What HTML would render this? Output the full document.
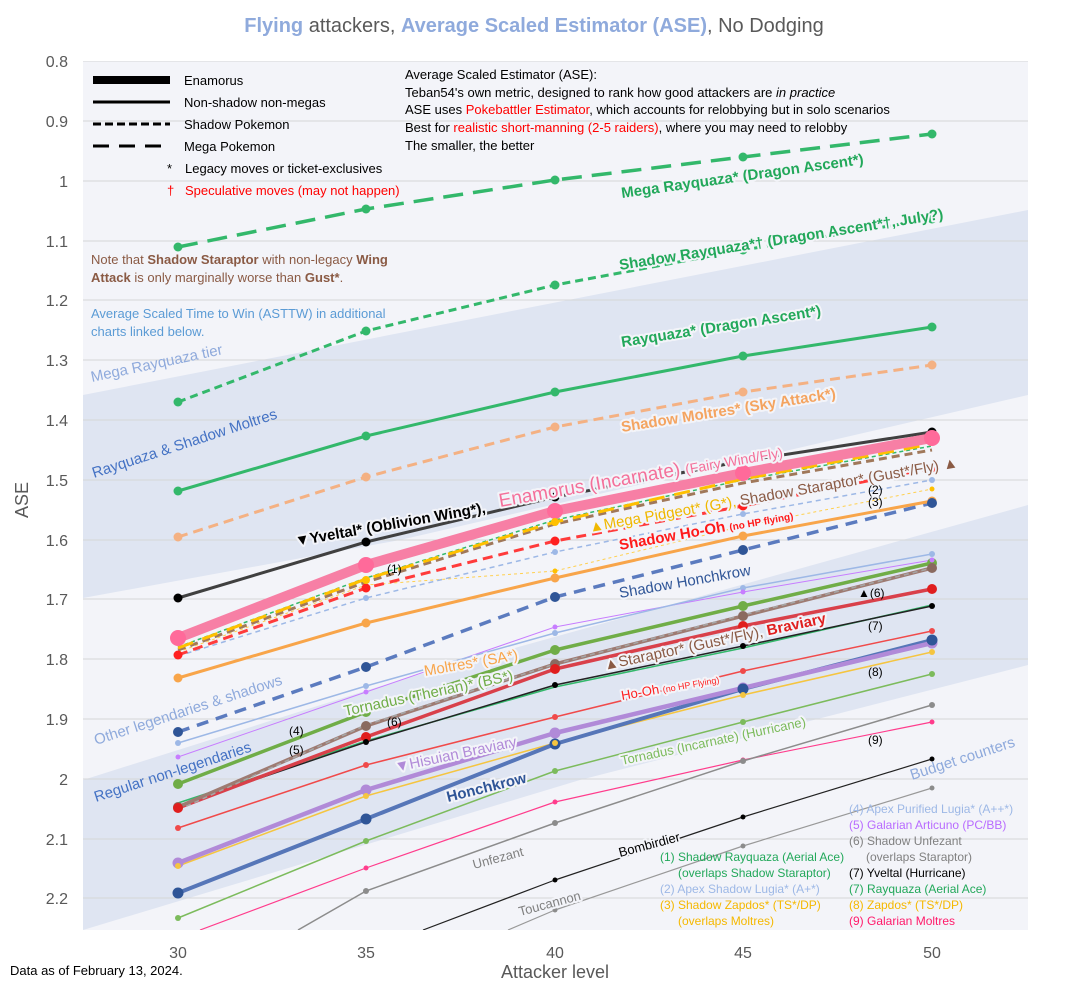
<!DOCTYPE html>
<html><head><meta charset="utf-8"><style>
body{margin:0;background:#fff}
svg{display:block;font-family:"Liberation Sans",sans-serif}
.h{paint-order:stroke;stroke:#f3f4f9;stroke-width:4px;stroke-linejoin:round}
</style></head><body>
<svg width="1068" height="982" viewBox="0 0 1068 982" xmlns="http://www.w3.org/2000/svg">
<defs><clipPath id="pc"><rect x="83" y="61" width="945" height="869"/></clipPath></defs>
<rect width="1068" height="982" fill="#fff"/>
<text x="534" y="32" text-anchor="middle" font-size="20" fill="#595959"><tspan fill="#8faadc" font-weight="bold">Flying</tspan> attackers, <tspan fill="#8faadc" font-weight="bold">Average Scaled Estimator (ASE)</tspan>, No Dodging</text>
<g clip-path="url(#pc)">
<rect x="83" y="61" width="945" height="869" fill="#f3f4f9"/>
<polygon points="83,395 1028,210 1028,395 400,540 83,598" fill="#dfe5f2"/>
<polygon points="83,780 400,680 1028,505 1028,665 580,780 83,930" fill="#dfe5f2"/>
<g stroke="#d6d6d6" stroke-width="1">
<line x1="83" x2="1028" y1="61" y2="61"/><line x1="83" x2="1028" y1="121" y2="121"/><line x1="83" x2="1028" y1="181" y2="181"/><line x1="83" x2="1028" y1="241" y2="241"/><line x1="83" x2="1028" y1="300" y2="300"/><line x1="83" x2="1028" y1="360" y2="360"/><line x1="83" x2="1028" y1="420" y2="420"/><line x1="83" x2="1028" y1="480" y2="480"/><line x1="83" x2="1028" y1="540" y2="540"/><line x1="83" x2="1028" y1="599" y2="599"/><line x1="83" x2="1028" y1="659" y2="659"/><line x1="83" x2="1028" y1="719" y2="719"/><line x1="83" x2="1028" y1="779" y2="779"/><line x1="83" x2="1028" y1="839" y2="839"/><line x1="83" x2="1028" y1="898" y2="898"/>
</g>
<g fill="none" stroke-linejoin="round">
<polyline points="200,930 366,868 555,802 743,760 932,722" stroke="#ff3c8c" stroke-width="1.2"/>
<polyline points="298,930 366,891 555,823 743,761 932,705" stroke="#8c8c8c" stroke-width="1.5"/>
<polyline points="423,930 555,880 743,817 932,759" stroke="#222" stroke-width="1.2"/>
<polyline points="508,930 555,910 743,846 932,788" stroke="#999" stroke-width="1.2"/>
<polyline points="178,918 366,841 555,771 743,722 932,674" stroke="#7cbb5c" stroke-width="1.5"/>
<polyline points="178,866 366,796 555,743 743,695 932,652" stroke="#f5c540" stroke-width="1.5"/>
<polyline points="178,893 366,819 555,744 743,689 932,640" stroke="#5676b8" stroke-width="4"/>
<polyline points="178,863 366,790 555,733 743,688 932,643" stroke="#b18ad8" stroke-width="4.5"/>
<polyline points="178,828 366,765 555,717 743,671 932,631" stroke="#f04a4a" stroke-width="1.5"/>
<polyline points="178,803 366,741 555,687 743,648 932,605" stroke="#33b86b" stroke-width="1.5"/>
<polyline points="178,806 366,742 555,685 743,646 932,606" stroke="#222" stroke-width="1.5"/>
<polyline points="178,808 366,737 555,669 743,626 932,589" stroke="#d9404a" stroke-width="3.5"/>
<polyline points="178,807 366,726 555,664 743,616 932,568" stroke="#9e7b72" stroke-width="3.5"/>
<polyline points="178,810 366,725 555,664 743,615 932,568" stroke="#a6a6a6" stroke-width="1.5" stroke-dasharray="5 4"/>
<polyline points="178,784 366,712 555,650 743,606 932,563" stroke="#70ad47" stroke-width="3.5"/>
<polyline points="178,757 366,692 555,627 743,592 932,560" stroke="#c77dff" stroke-width="1"/>
<polyline points="178,743 366,686 555,633 743,588 932,554" stroke="#9db8e6" stroke-width="1.5"/>
<polyline points="178,732 366,667 555,597 743,550 932,503" stroke="#5b7bbf" stroke-width="3.5" stroke-dasharray="12 8"/>
<polyline points="178,678 366,623 555,578 743,536 932,501" stroke="#f8a54a" stroke-width="3"/>
<polyline points="178,652 366,585 555,571 743,526 932,489" stroke="#ffd050" stroke-width="1" stroke-dasharray="3 3"/>
<polyline points="178,656 366,598 555,552 743,514 932,480" stroke="#9db8e6" stroke-width="1.5" stroke-dasharray="5 4"/>
<polyline points="178,655 366,588 555,541 743,506 932,468" stroke="#ff3b3b" stroke-width="3" stroke-dasharray="10 6"/>
<polyline points="178,647 366,578 555,520 743,480 932,446" stroke="#33b86b" stroke-width="1.5" stroke-dasharray="4 3"/>
<polyline points="178,650 366,582 555,524 743,483 932,450" stroke="#a0785a" stroke-width="3" stroke-dasharray="8 5"/>
<polyline points="178,648 366,579 555,522 743,479 932,444" stroke="#ffc000" stroke-width="3" stroke-dasharray="16 10"/>
<polyline points="178,598 366,542 555,497 743,461 932,432" stroke="#404040" stroke-width="3"/>
<polyline points="178,638 366,565 555,511 743,473 932,438" stroke="#f77fa5" stroke-width="10"/>
<polyline points="178,537 366,477 555,427 743,392 932,365" stroke="#f4b183" stroke-width="3" stroke-dasharray="10 6"/>
<polyline points="178,491 366,436 555,392 743,356 932,327" stroke="#33b86b" stroke-width="3"/>
<polyline points="178,402 366,331 555,285 743,250 932,219" stroke="#33b86b" stroke-width="3" stroke-dasharray="8 5"/>
<polyline points="178,247 366,209 555,180 743,157 932,134" stroke="#33b86b" stroke-width="3.5" stroke-dasharray="20 10"/>
</g>
<g>
<g fill="#33b86b"><circle cx="178" cy="247" r="4.5"/><circle cx="366" cy="209" r="4.5"/><circle cx="555" cy="180" r="4.5"/><circle cx="743" cy="157" r="4.5"/><circle cx="932" cy="134" r="4.5"/>
<circle cx="178" cy="402" r="4.5"/><circle cx="366" cy="331" r="4.5"/><circle cx="555" cy="285" r="4.5"/><circle cx="743" cy="250" r="4.5"/><circle cx="932" cy="219" r="4.5"/>
<circle cx="178" cy="491" r="4.5"/><circle cx="366" cy="436" r="4.5"/><circle cx="555" cy="392" r="4.5"/><circle cx="743" cy="356" r="4.5"/><circle cx="932" cy="327" r="4.5"/></g>
<g fill="#f4b183"><circle cx="178" cy="537" r="4.5"/><circle cx="366" cy="477" r="4.5"/><circle cx="555" cy="427" r="4.5"/><circle cx="743" cy="392" r="4.5"/><circle cx="932" cy="365" r="4.5"/></g>
<g fill="#000"><circle cx="178" cy="598" r="4.5"/><circle cx="366" cy="542" r="4.5"/><circle cx="555" cy="497" r="4.5"/><circle cx="743" cy="461" r="4.5"/><circle cx="932" cy="432" r="4.5"/></g>
<g fill="#ff6a9a"><circle cx="178" cy="638" r="8"/><circle cx="366" cy="565" r="8"/><circle cx="555" cy="511" r="8"/><circle cx="743" cy="473" r="8"/><circle cx="932" cy="438" r="8"/></g>
<g fill="#ff2020"><circle cx="178" cy="655" r="4.5"/><circle cx="366" cy="588" r="4.5"/><circle cx="555" cy="541" r="4.5"/><circle cx="743" cy="506" r="4.5"/><circle cx="932" cy="468" r="4.5"/></g>
<g fill="#f8a54a"><circle cx="178" cy="678" r="4.5"/><circle cx="366" cy="623" r="4.5"/><circle cx="555" cy="578" r="4.5"/><circle cx="743" cy="536" r="4.5"/><circle cx="932" cy="501" r="4.5"/></g>
<g fill="#2f5597"><circle cx="178" cy="732" r="5"/><circle cx="366" cy="667" r="5"/><circle cx="555" cy="597" r="5"/><circle cx="743" cy="550" r="5"/><circle cx="932" cy="503" r="5"/></g>
<g fill="#70ad47"><circle cx="178" cy="784" r="5"/><circle cx="366" cy="712" r="5"/><circle cx="555" cy="650" r="5"/><circle cx="743" cy="606" r="5"/><circle cx="932" cy="563" r="5"/></g>
<g fill="#8a6a60"><circle cx="178" cy="807" r="5"/><circle cx="366" cy="726" r="5"/><circle cx="555" cy="664" r="5"/><circle cx="743" cy="616" r="5"/><circle cx="932" cy="568" r="5"/></g>
<g fill="#e01e1e"><circle cx="178" cy="808" r="5"/><circle cx="366" cy="737" r="5"/><circle cx="555" cy="669" r="5"/><circle cx="743" cy="626" r="5"/><circle cx="932" cy="589" r="5"/></g>
<g fill="#b18ad8"><circle cx="178" cy="863" r="5.5"/><circle cx="366" cy="790" r="5.5"/><circle cx="555" cy="733" r="5.5"/><circle cx="743" cy="688" r="5.5"/><circle cx="932" cy="643" r="5.5"/></g>
<g fill="#2f5597"><circle cx="178" cy="893" r="5.5"/><circle cx="366" cy="819" r="5.5"/><circle cx="555" cy="744" r="5.5"/><circle cx="743" cy="689" r="5.5"/><circle cx="932" cy="640" r="5.5"/></g>
<g fill="#7cbb5c"><circle cx="178" cy="918" r="3"/><circle cx="366" cy="841" r="3"/><circle cx="555" cy="771" r="3"/><circle cx="743" cy="722" r="3"/><circle cx="932" cy="674" r="3"/></g>
<g fill="#f04a4a"><circle cx="178" cy="828" r="3"/><circle cx="366" cy="765" r="3"/><circle cx="555" cy="717" r="3"/><circle cx="743" cy="671" r="3"/><circle cx="932" cy="631" r="3"/></g>
<g fill="#000"><circle cx="366" cy="742" r="3"/><circle cx="555" cy="685" r="3"/><circle cx="743" cy="646" r="3"/><circle cx="932" cy="606" r="3"/><circle cx="555" cy="880" r="2.5"/><circle cx="743" cy="817" r="2.5"/><circle cx="932" cy="759" r="2.5"/></g>
<g fill="#ff3c8c"><circle cx="366" cy="868" r="2.5"/><circle cx="555" cy="802" r="2.5"/><circle cx="743" cy="760" r="2.5"/><circle cx="932" cy="722" r="2.5"/></g>
<g fill="#8c8c8c"><circle cx="366" cy="891" r="3"/><circle cx="555" cy="823" r="3"/><circle cx="743" cy="761" r="3"/><circle cx="932" cy="705" r="3"/><circle cx="555" cy="910" r="2.5"/><circle cx="743" cy="846" r="2.5"/><circle cx="932" cy="788" r="2.5"/></g>
<g fill="#f5c540"><circle cx="178" cy="866" r="3"/><circle cx="366" cy="796" r="3"/><circle cx="555" cy="743" r="3"/><circle cx="743" cy="695" r="3"/><circle cx="932" cy="652" r="3"/></g>
<g fill="#9db8e6"><circle cx="178" cy="743" r="3"/><circle cx="366" cy="686" r="3"/><circle cx="555" cy="633" r="3"/><circle cx="743" cy="588" r="3"/><circle cx="932" cy="554" r="3"/><circle cx="366" cy="598" r="3"/><circle cx="555" cy="552" r="3"/><circle cx="743" cy="514" r="3"/><circle cx="932" cy="480" r="3"/></g>
<g fill="#c77dff"><circle cx="178" cy="757" r="2.5"/><circle cx="366" cy="692" r="2.5"/><circle cx="555" cy="627" r="2.5"/><circle cx="743" cy="592" r="2.5"/><circle cx="932" cy="560" r="2.5"/></g>
<g fill="#ffc000"><circle cx="555" cy="571" r="2.5"/><circle cx="743" cy="526" r="2.5"/><circle cx="932" cy="489" r="2.5"/><circle cx="366" cy="580" r="4"/><circle cx="555" cy="522" r="4"/></g>
</g>
<!-- band labels -->
<g font-size="15">
<text x="92" y="382" fill="#8faadc" transform="rotate(-12 92 382)">Mega Rayquaza tier</text>
<text x="94" y="478" fill="#4472c4" transform="rotate(-18 94 478)">Rayquaza &amp; Shadow Moltres</text>
<text x="96" y="745" fill="#8faadc" transform="rotate(-18 96 745)">Other legendaries &amp; shadows</text>
<text x="96" y="802" fill="#4472c4" transform="rotate(-18 96 802)">Regular non-legendaries</text>
<text x="912" y="780" fill="#8faadc" transform="rotate(-18 912 780)">Budget counters</text>
</g>
<!-- series labels -->
<g font-size="15" font-weight="bold">
<text class="h" x="622" y="198" fill="#22a85a" transform="rotate(-8 622 198)">Mega Rayquaza* (Dragon Ascent*)</text>
<text class="h" x="620" y="270" fill="#22a85a" transform="rotate(-9 620 270)">Shadow Rayquaza*† (Dragon Ascent*†, July?)</text>
<text class="h" x="622" y="347" fill="#22a85a" transform="rotate(-9 622 347)">Rayquaza* (Dragon Ascent*)</text>
<text class="h" x="622" y="432" fill="#f4a460" transform="rotate(-9 622 432)">Shadow Moltres* (Sky Attack*)</text>
<text class="h" x="296" y="546" fill="#000" transform="rotate(-10 296 546)">▼Yveltal* (Oblivion Wing*),</text>
<text class="h" x="500" y="507" fill="#f4709a" font-size="19" font-weight="normal" transform="rotate(-10 500 507)">Enamorus (Incarnate) <tspan font-size="14">(Fairy Wind/Fly)</tspan></text>
<text class="h" x="590" y="532" fill="#f0b800" font-weight="normal" transform="rotate(-10 590 532)">▲Mega Pidgeot* (G*), <tspan fill="#8a5a44">Shadow Staraptor* (Gust*/Fly)</tspan> <tspan fill="#8a5a44">▲</tspan></text>
<text class="h" x="620" y="550" fill="#ff1a1a" transform="rotate(-10 620 550)">Shadow Ho-Oh <tspan font-size="10">(no HP flying)</tspan></text>
<text class="h" x="620" y="598" fill="#2f5597" font-weight="normal" transform="rotate(-10 620 598)">Shadow Honchkrow</text>
<text class="h" x="425" y="676" fill="#f8a54a" font-weight="normal" transform="rotate(-10 425 676)">Moltres* (SA*)</text>
<text class="h" x="345" y="716" fill="#70ad47" font-weight="normal" transform="rotate(-12 345 716)">Tornadus (Therian)* (BS*)</text>
<text class="h" x="605" y="670" fill="#8a5a44" font-weight="normal" transform="rotate(-12 605 670)">▲Staraptor* (Gust*/Fly), <tspan fill="#e01e1e" font-weight="bold">Braviary</tspan></text>
<text class="h" x="396" y="772" fill="#b18ad8" font-weight="normal" transform="rotate(-12 396 772)">▼Hisuian Braviary</text>
<text class="h" x="448" y="802" fill="#2f5597" transform="rotate(-14 448 802)">Honchkrow</text>
</g>
<g font-size="12">
<text class="h" x="622" y="700" fill="#ff2020" font-size="13" transform="rotate(-10 622 700)">Ho-Oh <tspan font-size="9">(no HP Flying)</tspan></text>
<text class="h" x="622" y="765" fill="#7cbb5c" font-size="13" transform="rotate(-12 622 765)">Tornadus (Incarnate) (Hurricane)</text>
<text class="h" x="474" y="869" fill="#808080" font-size="13" transform="rotate(-15 474 869)">Unfezant</text>
<text class="h" x="520" y="916" fill="#808080" font-size="13" transform="rotate(-15 520 916)">Toucannon</text>
<text class="h" x="620" y="857" fill="#000" font-size="13" transform="rotate(-15 620 857)">Bombirdier</text>
<text x="387" y="573" fill="#000">(1)</text>
<text x="868" y="494" fill="#000">(2)</text>
<text x="868" y="506" fill="#000">(3)</text>
<text x="289" y="735" fill="#000">(4)</text>
<text x="289" y="754" fill="#000">(5)</text>
<text x="387" y="726" fill="#000">(6)</text>
<text x="858" y="597" fill="#000">▲(6)</text>
<text x="868" y="630" fill="#000">(7)</text>
<text x="868" y="676" fill="#000">(8)</text>
<text x="868" y="744" fill="#000">(9)</text>
</g>
<g font-size="12">
<text x="660" y="861" fill="#22a85a">(1) Shadow Rayquaza (Aerial Ace)</text>
<text x="678" y="877" fill="#22a85a">(overlaps Shadow Staraptor)</text>
<text x="660" y="893" fill="#9db8e6">(2) Apex Shadow Lugia* (A+*)</text>
<text x="660" y="909" fill="#f5b800">(3) Shadow Zapdos* (TS*/DP)</text>
<text x="678" y="925" fill="#f5b800">(overlaps Moltres)</text>
<text x="849" y="813" fill="#9db8e6">(4) Apex Purified Lugia* (A++*)</text>
<text x="849" y="829" fill="#b86bff">(5) Galarian Articuno (PC/BB)</text>
<text x="849" y="845" fill="#808080">(6) Shadow Unfezant</text>
<text x="866" y="861" fill="#808080">(overlaps Staraptor)</text>
<text x="849" y="877" fill="#000">(7) Yveltal (Hurricane)</text>
<text x="849" y="893" fill="#22a85a">(7) Rayquaza (Aerial Ace)</text>
<text x="849" y="909" fill="#f5b800">(8) Zapdos* (TS*/DP)</text>
<text x="849" y="925" fill="#ff1a6a">(9) Galarian Moltres</text>
</g>
<!-- legend -->
<g stroke="#000" stroke-width="3">
<line x1="93" y1="80" x2="170" y2="80" stroke-width="8"/>
<line x1="93" y1="102" x2="170" y2="102"/>
<line x1="93" y1="124" x2="170" y2="124" stroke-dasharray="8 4"/>
<line x1="93" y1="146" x2="170" y2="146" stroke-dasharray="16 10"/>
</g>
<g font-size="13" fill="#000">
<text x="184" y="85">Enamorus</text>
<text x="184" y="107">Non-shadow non-megas</text>
<text x="184" y="129">Shadow Pokemon</text>
<text x="184" y="151">Mega Pokemon</text>
<text x="167" y="173">*</text><text x="185" y="173">Legacy moves or ticket-exclusives</text>
<text x="167" y="195" fill="#ff0000">†</text><text x="185" y="195" fill="#ff0000">Speculative moves (may not happen)</text>
<text x="405" y="79">Average Scaled Estimator (ASE):</text>
<text x="405" y="97">Teban54's own metric, designed to rank how good attackers are <tspan font-style="italic">in practice</tspan></text>
<text x="405" y="114">ASE uses <tspan fill="#ff0000">Pokebattler Estimator</tspan>, which accounts for relobbying but in solo scenarios</text>
<text x="405" y="132">Best for <tspan fill="#ff0000">realistic short-manning (2-5 raiders)</tspan>, where you may need to relobby</text>
<text x="405" y="150">The smaller, the better</text>
<text x="91" y="264" fill="#8a5a44">Note that <tspan font-weight="bold">Shadow Staraptor</tspan> with non-legacy <tspan font-weight="bold">Wing</tspan></text>
<text x="91" y="282" fill="#8a5a44"><tspan font-weight="bold">Attack</tspan> is only marginally worse than <tspan font-weight="bold">Gust*</tspan>.</text>
<text x="91" y="318" fill="#5b9bd5">Average Scaled Time to Win (ASTTW) in additional</text>
<text x="91" y="336" fill="#5b9bd5">charts linked below.</text>
</g>
</g>
<!-- axes labels -->
<g font-size="16" fill="#595959" text-anchor="end">
<text x="68" y="67">0.8</text><text x="68" y="127">0.9</text><text x="68" y="187">1</text><text x="68" y="247">1.1</text><text x="68" y="306">1.2</text><text x="68" y="366">1.3</text><text x="68" y="426">1.4</text><text x="68" y="486">1.5</text><text x="68" y="546">1.6</text><text x="68" y="605">1.7</text><text x="68" y="665">1.8</text><text x="68" y="725">1.9</text><text x="68" y="785">2</text><text x="68" y="845">2.1</text><text x="68" y="904">2.2</text>
</g>
<g font-size="16" fill="#595959" text-anchor="middle">
<text x="178" y="958">30</text><text x="366" y="958">35</text><text x="555" y="958">40</text><text x="743" y="958">45</text><text x="932" y="958">50</text>
<text x="555" y="978" font-size="18">Attacker level</text>
<text x="28" y="500" font-size="18" transform="rotate(-90 28 500)">ASE</text>
</g>
<text x="10" y="975" font-size="13" fill="#000">Data as of February 13, 2024.</text>
</svg>
</body></html>
